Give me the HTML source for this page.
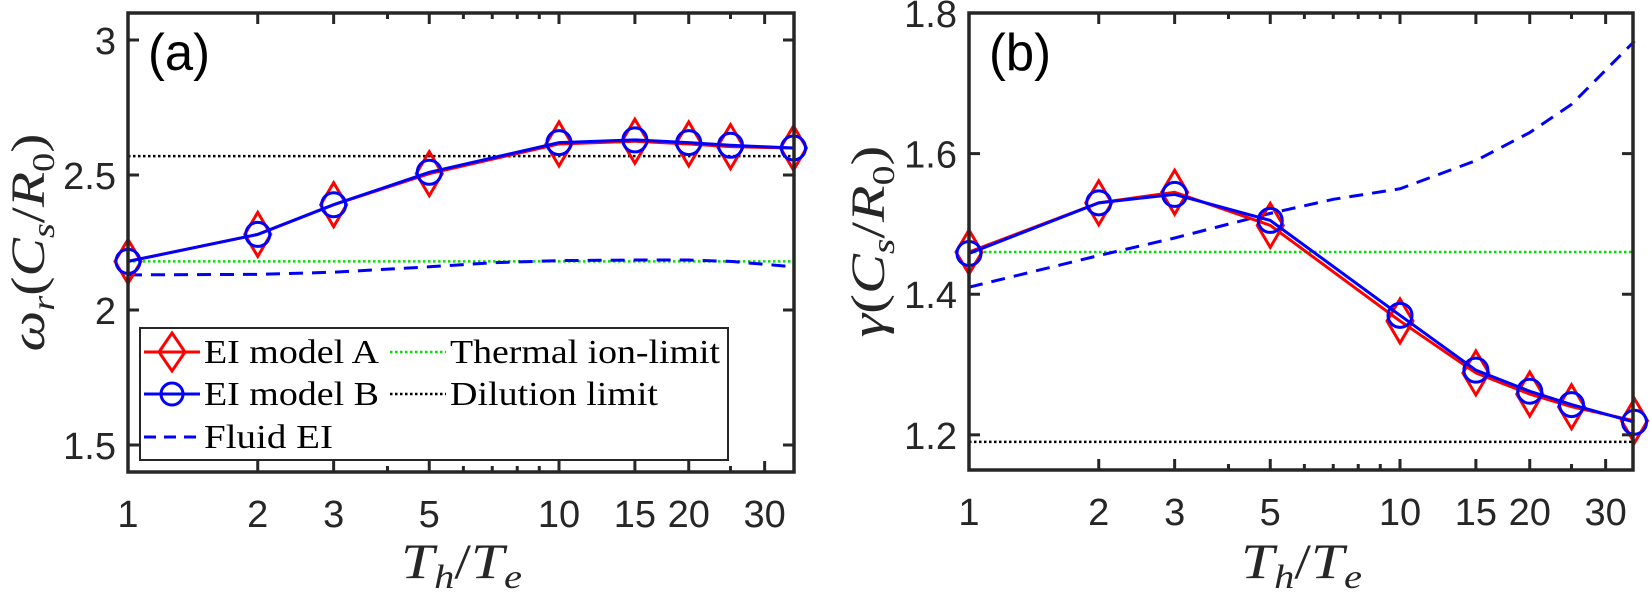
<!DOCTYPE html>
<html><head><meta charset="utf-8"><style>
body{margin:0;background:#fff;width:1650px;height:591px;overflow:hidden}
svg text{font-family:"Liberation Sans",Arial,sans-serif}
.s{font-family:"Liberation Serif",serif}
</style></head><body>
<svg id="g" width="1650" height="591" xmlns="http://www.w3.org/2000/svg"></svg>
<script>
const svg=document.getElementById('g');let h='';
const X=[1,2,3,5,10,15,20,25,35];
function panel(o){
 const L=o.L,R=o.R,T=13,B=o.B;
 const px=x=>L+Math.log10(x)*431;
 const py=y=>T+(o.ymax-y)/(o.ymax-o.ymin)*(B-T);
 let s='';
 s+=`<line x1="${L}" x2="${R}" y1="${py(o.dil)}" y2="${py(o.dil)}" stroke="#000" stroke-width="2.5" stroke-dasharray="2.5,2.5"/>`;
 s+=`<line x1="${L}" x2="${R}" y1="${py(o.th)}" y2="${py(o.th)}" stroke="#00e000" stroke-width="2.5" stroke-dasharray="2.5,2.5"/>`;
 s+=`<polyline fill="none" stroke="#0000ff" stroke-width="3" stroke-dasharray="14,9" points="${o.fx.map((x,i)=>px(x)+','+py(o.fy[i])).join(' ')}"/>`;
 s+=`<polyline fill="none" stroke="#ff0000" stroke-width="3" points="${X.map((x,i)=>px(x)+','+py(o.a[i])).join(' ')}"/>`;
 X.forEach((x,i)=>{const cx=px(x),cy=py(o.a[i]);s+=`<polygon points="${cx},${cy-22} ${cx+13},${cy} ${cx},${cy+22} ${cx-13},${cy}" fill="none" stroke="#ff0000" stroke-width="3"/>`});
 s+=`<polyline fill="none" stroke="#0000ff" stroke-width="3" points="${X.map((x,i)=>px(x)+','+py(o.b[i])).join(' ')}"/>`;
 X.forEach((x,i)=>{s+=`<ellipse cx="${px(x)}" cy="${py(o.b[i])}" rx="12" ry="12" fill="none" stroke="#0000ff" stroke-width="3"/>`});
 const maj=[1,2,3,5,10,15,20,30];
 const mins=[4,6,7,8,9,25];
 maj.forEach(x=>{const xx=px(x);s+=`<line x1="${xx}" x2="${xx}" y1="${B}" y2="${B-11}" stroke="#262626" stroke-width="3"/><line x1="${xx}" x2="${xx}" y1="${T}" y2="${T+11}" stroke="#262626" stroke-width="3"/>`;
  s+=`<text x="${xx}" y="${B+55}" font-size="38" text-anchor="middle" fill="#262626">${x}</text>`});
 mins.forEach(x=>{const xx=px(x);s+=`<line x1="${xx}" x2="${xx}" y1="${B}" y2="${B-6}" stroke="#262626" stroke-width="3"/><line x1="${xx}" x2="${xx}" y1="${T}" y2="${T+6}" stroke="#262626" stroke-width="3"/>`});
 o.yt.forEach(y=>{const yy=py(y);s+=`<line x1="${L}" x2="${L+11}" y1="${yy}" y2="${yy}" stroke="#262626" stroke-width="3"/><line x1="${R}" x2="${R-11}" y1="${yy}" y2="${yy}" stroke="#262626" stroke-width="3"/>`;
  s+=`<text x="${L-12}" y="${yy+14}" font-size="38" text-anchor="end" fill="#262626">${o.ytl(y)}</text>`});
 s+=`<rect x="${L}" y="${T}" width="${R-L}" height="${B-T}" fill="none" stroke="#262626" stroke-width="3.5"/>`;
 s+=`<text x="${L+20}" y="70" font-size="52" textLength="62" lengthAdjust="spacingAndGlyphs" fill="#000">${o.lab}</text>`;
 s+=`<text class="s" x="${(L+R)/2-60}" y="578" font-size="50" textLength="121" lengthAdjust="spacingAndGlyphs" font-style="italic" fill="#262626">T<tspan font-size="34" dy="10">h</tspan><tspan dy="-10" font-style="normal">/</tspan>T<tspan font-size="34" dy="10">e</tspan></text>`;
 s+=`<text class="s" transform="translate(${o.yl},${(T+B)/2}) rotate(-90)" font-size="48" text-anchor="middle" textLength="${o.ylen}" lengthAdjust="spacingAndGlyphs" fill="#262626"><tspan font-style="italic">${o.ysym}</tspan>${o.ysub?`<tspan font-style="italic" font-size="32" dy="10">${o.ysub}</tspan><tspan dy="-10">(</tspan>`:'('}<tspan font-style="italic">C</tspan><tspan font-style="italic" font-size="32" dy="10">s</tspan><tspan dy="-10">/</tspan><tspan font-style="italic">R</tspan><tspan font-size="32" dy="10">0</tspan><tspan dy="-10">)</tspan></text>`;
 return s;
}
h+=panel({L:128,R:794,B:472,ymin:1.4,ymax:3.1,dil:2.57,th:2.18,lab:'(a)',yl:44,ylen:218,ysym:'ω',ysub:'r',
 yt:[1.5,2,2.5,3],ytl:y=>y,
 a:[2.18,2.28,2.39,2.505,2.615,2.625,2.615,2.605,2.6],
 b:[2.18,2.28,2.39,2.51,2.62,2.63,2.62,2.61,2.6],
 fx:[1,2,3,5,7,10,15,20,25,35],fy:[2.13,2.132,2.14,2.16,2.175,2.183,2.185,2.185,2.18,2.16]});
h+=panel({L:969,R:1633,B:470,ymin:1.15,ymax:1.8,dil:1.19,th:1.46,lab:'(b)',yl:884,ylen:192,ysym:'γ',ysub:'',
 yt:[1.2,1.4,1.6,1.8],ytl:y=>y.toFixed(1),
 a:[1.46,1.53,1.545,1.498,1.362,1.288,1.258,1.24,1.22],
 b:[1.458,1.53,1.542,1.505,1.37,1.292,1.262,1.243,1.218],
 fx:[1,2,3,5,7,10,15,20,25,35],fy:[1.41,1.455,1.48,1.515,1.535,1.55,1.59,1.63,1.67,1.76]});
let g='<rect x="140" y="328" width="588" height="132" fill="#fff" stroke="#262626" stroke-width="2"/>';
g+='<line x1="144" x2="200" y1="352" y2="352" stroke="#f00" stroke-width="3"/><polygon points="172,333 185,352 172,371 159,352" fill="none" stroke="#f00" stroke-width="3"/>';
g+='<line x1="144" x2="200" y1="394" y2="394" stroke="#00f" stroke-width="3"/><circle cx="172" cy="394" r="11" fill="none" stroke="#00f" stroke-width="3"/>';
g+='<line x1="144" x2="200" y1="437" y2="437" stroke="#00f" stroke-width="3" stroke-dasharray="12,8"/>';
g+='<line x1="390" x2="446" y1="352" y2="352" stroke="#00e000" stroke-width="2.5" stroke-dasharray="2.5,2.5"/>';
g+='<line x1="390" x2="446" y1="394" y2="394" stroke="#000" stroke-width="2.5" stroke-dasharray="2.5,2.5"/>';
const t=(x,y,s,w)=>`<text class="s" x="${x}" y="${y}" font-size="34" textLength="${w}" lengthAdjust="spacingAndGlyphs" fill="#000">${s}</text>`;
g+=t(204,363,'EI model A',175)+t(204,405,'EI model B',175)+t(204,448,'Fluid EI',129)+t(450,363,'Thermal ion-limit',270)+t(450,405,'Dilution limit',208);
h+=g;
svg.innerHTML=h;
</script>
</body></html>
